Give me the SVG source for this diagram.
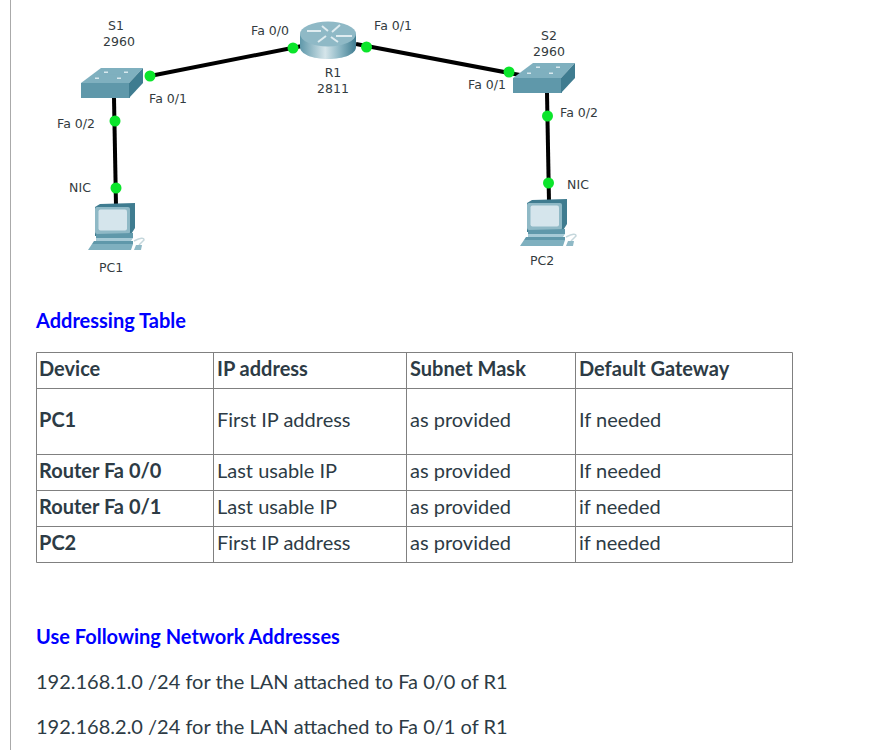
<svg xmlns="http://www.w3.org/2000/svg" width="888" height="750" viewBox="0 0 888 750">
<style>
.l{font:12.5px "DejaVu Sans",sans-serif;fill:#333b40;text-anchor:middle}
.t{font:20px Lato,sans-serif;fill:#2d3b45}
.b{font-weight:700}
.h{font:700 20px Lato,sans-serif;fill:#0000ff}
.g{fill:none;stroke:#808080;stroke-width:1}
.w{fill:none;stroke:#000;stroke-width:4}
.d{fill:#0be52b}
.sf{fill:#5f98aa}.st{fill:#7fb0bf}.ss{fill:#3f7c90}.sd{fill:#d8e8ee}
</style>
<defs>
<linearGradient id="rg" x1="0" x2="1" y1="0" y2="0"><stop offset="0" stop-color="#5f98aa"/><stop offset=".45" stop-color="#d5e5ea"/><stop offset=".7" stop-color="#8fb9c6"/><stop offset="1" stop-color="#3f7c90"/></linearGradient>
<g id="sw"><polygon class="st" points="20,0 62,0 48,15 0,15"/><rect class="sf" y="15" width="49" height="15"/><polygon class="ss" points="48,15 62,0 62,15 48,30"/><g class="sd"><rect x="23" y="3.5" width="4" height="1.5"/><rect x="43" y="3.5" width="4" height="1.5"/><rect x="14" y="9.500" width="4" height="1.500"/><rect x="36" y="9.500" width="4" height="1.500"/><rect x="24" y="6" width="20" height=".8" class="st"/></g></g>
<g id="pc"><polygon class="ss" points="95,207 100,204 135,203 135,228 130,236 95,236"/><rect x="95" y="207" width="35" height="27" rx="2" fill="#8fb9c6"/><rect x="98.500" y="209.500" width="28.500" height="21" rx="2" fill="#d5e5ec"/><polygon points="96,234 133,233 133,238 96,238" fill="#5f98aa"/><polygon points="96,238 133,238 131,241 96,241" fill="#a6cad6"/><polygon points="94,241 133,241 133,244 92,244" fill="#5f98aa"/><polygon points="92,244 133,244 131,250 88,250" fill="#7fb0bf"/><path d="M134,241 Q144,236 144,240 L139,245" fill="none" stroke="#c5d7dc" stroke-width="1.500"/><polygon points="136,245 142,245 141,250 134,250" fill="#8fb9c6"/></g>
</defs>
<rect width="888" height="750" fill="#fff"/>
<rect x="10" y="0" width="1" height="750" fill="#aaaaaa"/>
<g id="connectors">
<path class="w" d="M150,76 302,46"/><path class="w" d="M356,44 520,75"/><path class="w" d="M114,98 116,206"/><path class="w" d="M547,93 549,202"/>
</g>
<g id="S1"><use href="#sw" x="81" y="68"/><text class="l" x="116" y="30">S1</text><text class="l" x="119" y="46">2960</text></g>
<g id="R1"><path d="M300,34 V47 C300,54 312,59 328,59 C344,59 356,54 356,47 V34 Z" fill="url(#rg)"/><ellipse cx="328" cy="34" rx="28" ry="12.500" fill="#8fb9c6"/><g fill="none" stroke="#dfecf0" stroke-width="2"><path d="M307,31 H321M352,36 H336M332,32 L340,25M318,42 L326,36M322,26 L328,31M331,37 L338,42"/></g><text class="l" x="333" y="77">R1</text><text class="l" x="333" y="93">2811</text></g>
<g id="S2"><use href="#sw" x="513" y="63"/><text class="l" x="549" y="40">S2</text><text class="l" x="549" y="56">2960</text></g>
<g id="PC1"><use href="#pc"/><text class="l" x="111" y="272">PC1</text></g>
<g id="PC2"><use href="#pc" x="432" y="-4"/><text class="l" x="542" y="265">PC2</text></g>
<g id="ports">
<g class="d"><circle cx="150" cy="76" r="5.500"/><circle cx="293" cy="48" r="5.500"/><circle cx="366.500" cy="47" r="5.500"/><circle cx="509" cy="72" r="5.500"/><circle cx="115" cy="121" r="5.500"/><circle cx="116" cy="188" r="5.500"/><circle cx="547.500" cy="116" r="5.500"/><circle cx="548.500" cy="183" r="5.500"/></g>
<text class="l" x="270" y="35">Fa 0/0</text><text class="l" x="393" y="30">Fa 0/1</text><text class="l" x="168" y="103">Fa 0/1</text><text class="l" x="76" y="128">Fa 0/2</text><text class="l" x="487" y="89">Fa 0/1</text><text class="l" x="579" y="117">Fa 0/2</text><text class="l" x="80" y="192">NIC</text><text class="l" x="578" y="189">NIC</text>
</g>
<text class="h" x="36" y="328">Addressing Table</text>
<g id="table">
<path class="g" d="M36.500,352.500H792.500V562.500H36.500ZM36.500,388.500H792.500M36.500,454.500H792.500M36.500,490.500H792.500M36.500,526.500H792.500M213.500,352.500V562.500M406.500,352.500V562.500M575.500,352.500V562.500"/>
<g class="t b"><text x="39" y="376">Device</text><text x="217" y="376">IP address</text><text x="410" y="376">Subnet Mask</text><text x="579" y="376">Default Gateway</text><text x="39" y="427">PC1</text><text x="39" y="478">Router Fa 0/0</text><text x="39" y="514">Router Fa 0/1</text><text x="39" y="550">PC2</text></g>
<g class="t"><text x="217" y="427">First IP address</text><text x="217" y="478">Last usable IP</text><text x="217" y="514">Last usable IP</text><text x="217" y="550">First IP address</text>
<text x="410" y="427">as provided</text><text x="410" y="478">as provided</text><text x="410" y="514">as provided</text><text x="410" y="550">as provided</text>
<text x="579" y="427">If needed</text><text x="579" y="478">If needed</text><text x="579" y="514">if needed</text><text x="579" y="550">if needed</text></g>
</g>
<text class="h" x="36" y="644">Use Following Network Addresses</text>
<text class="t" x="36" y="689">192.168.1.0 /24 for the LAN attached to Fa 0/0 of R1</text>
<text class="t" x="36" y="734">192.168.2.0 /24 for the LAN attached to Fa 0/1 of R1</text>
</svg>
